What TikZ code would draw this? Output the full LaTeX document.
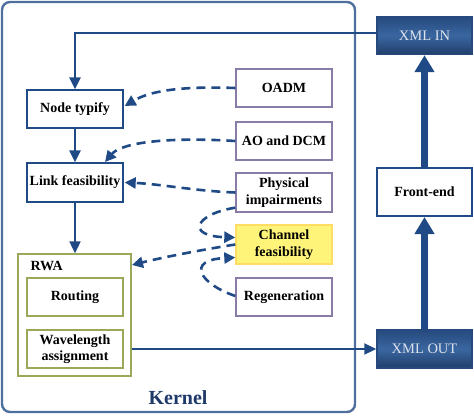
\documentclass[tikz,border=0pt]{standalone}
\usepackage{fontspec}
\setmainfont{Liberation Serif}
\usetikzlibrary{arrows.meta,calc,shadings}
\definecolor{arrowblue}{HTML}{1F4A86}
\definecolor{kernelblue}{HTML}{4F6F9F}
\definecolor{boxpurple}{HTML}{8A7CA8}
\definecolor{rwagreen}{HTML}{9AA85A}
\definecolor{xmlfill}{HTML}{3A66A0}
\definecolor{xmldark}{HTML}{264A7E}
\definecolor{xmltext}{HTML}{DDE3EC}
\definecolor{cfyellow}{HTML}{FFF47A}
\definecolor{kerneltext}{HTML}{1F3A6A}
\tikzset{
  boxfont/.style={font=\bfseries\fontsize{14}{16.5}\selectfont},
  leftbox/.style={draw=arrowblue, line width=1.4pt, fill=white, minimum width=96pt, minimum height=38pt, inner sep=1pt, boxfont, align=center},
  rightbox/.style={draw=boxpurple, line width=1.4pt, fill=white, minimum width=96pt, minimum height=38pt, inner sep=1pt, boxfont, align=center},
  xmlbox/.style={draw=xmldark, line width=1.4pt, top color=xmldark, bottom color=xmldark!85!black, middle color=xmlfill, minimum width=95pt, minimum height=38pt, text=xmltext, font=\fontsize{14.5}{15}\selectfont},
  solidar/.style={draw=arrowblue, line width=2.4pt, -{Triangle[length=12pt,width=11pt]}},
  thickar/.style={draw=arrowblue, line width=6.5pt, -{Triangle[length=17pt,width=19pt]}},
  dashar/.style={draw=arrowblue, line width=2.6pt, dash pattern=on 9pt off 6pt, -{Triangle[length=11pt,width=11pt]}},
}
\begin{document}
\begin{tikzpicture}[x=1pt,y=-1pt]
\useasboundingbox (0,0) rectangle (474,420);
% Kernel frame
\draw[kernelblue, line width=2.4pt, rounded corners=8pt] (2,2) rectangle (355,412);
\node[font=\bfseries\fontsize{20}{22}\selectfont, text=kerneltext] (kernel) at (178,398) {Kernel};
% RWA container
\node[draw=rwagreen, line width=1.5pt, minimum width=113pt, minimum height=122pt, inner sep=0pt] (rwa) at (74.5,315) {};
\node[boxfont, anchor=west] (rwalabel) at (27,266) {RWA};
\node[leftbox, draw=rwagreen] (rout) at (75,297) {Routing};
\node[leftbox, draw=rwagreen] (wa) at (75,349) {Wavelength\\assignment};
% Left column
\node[leftbox] (nt) at (75,109) {Node typify};
\node[leftbox, minimum height=39pt] (lf) at (75,182.5) {Link feasibility};
% Right column
\node[rightbox] (oadm) at (284,88) {OADM};
\node[rightbox] (ao) at (284,141) {AO and DCM};
\node[rightbox, minimum height=39pt] (pi) at (284,192.5) {Physical\\impairments};
\node[rightbox, draw=cfyellow!80!orange, fill=cfyellow, minimum height=39pt] (cf) at (284,244.5) {Channel\\feasibility};
\node[rightbox] (reg) at (284,297) {Regeneration};
% XML side
\node[xmlbox] (xin) at (424.5,35.5) {XML IN};
\node[draw=arrowblue, line width=2pt, fill=white, minimum width=95pt, minimum height=48pt, boxfont] (fe) at (424.5,192) {Front-end};
\node[xmlbox] (xout) at (424.5,349) {XML OUT};
% Solid connectors
\coordinate (k1) at (75,33);
\draw[solidar] (xin.west |- k1) -- (k1) -- (nt.north);
\draw[solidar] (nt.south) -- (lf.north);
\draw[solidar] (lf.south) -- (rwa.north -| lf.south);
\draw[solidar, line width=2pt] (rwa.east |- xout.west) -- (xout.west);
\draw[thickar] (xout.north) -- (fe.south);
\draw[thickar] (fe.north) -- (xin.south);
% Dashed connectors
\coordinate (nte) at ($(nt.east)+(1,-3)$);
\draw[dashar] (oadm.west) .. controls (180,86) and (150,91) .. (nte);
\coordinate (lfn) at (105,162);
\draw[dashar] (ao.west) .. controls (170,137) and (122,142) .. (lfn);
\coordinate (pia) at ($(pi.west)+(0,0)$);
\coordinate (lfe) at ($(lf.east)+(1,0)$);
\draw[dashar] (pia) .. controls (195,191) and (160,184) .. (lfe);
\coordinate (pib) at ($(pi.south west)+(0,-5)$);
\coordinate (cfa) at ($(cf.west)+(0,-7)$);
\draw[dashar] (pib) .. controls (195,214) and (185,236) .. (cfa);
\coordinate (cfb) at ($(cf.west)+(0,0)$);
\coordinate (rwae) at (132,265);
\draw[dashar] (cfb) .. controls (200,250) and (160,258) .. (rwae);
\coordinate (rega) at ($(reg.west)+(0,-1)$);
\coordinate (cfc) at ($(cf.west)+(0,13)$);
\draw[dashar] (rega) .. controls (200,284) and (185,260) .. (cfc);
\end{tikzpicture}
\end{document}
